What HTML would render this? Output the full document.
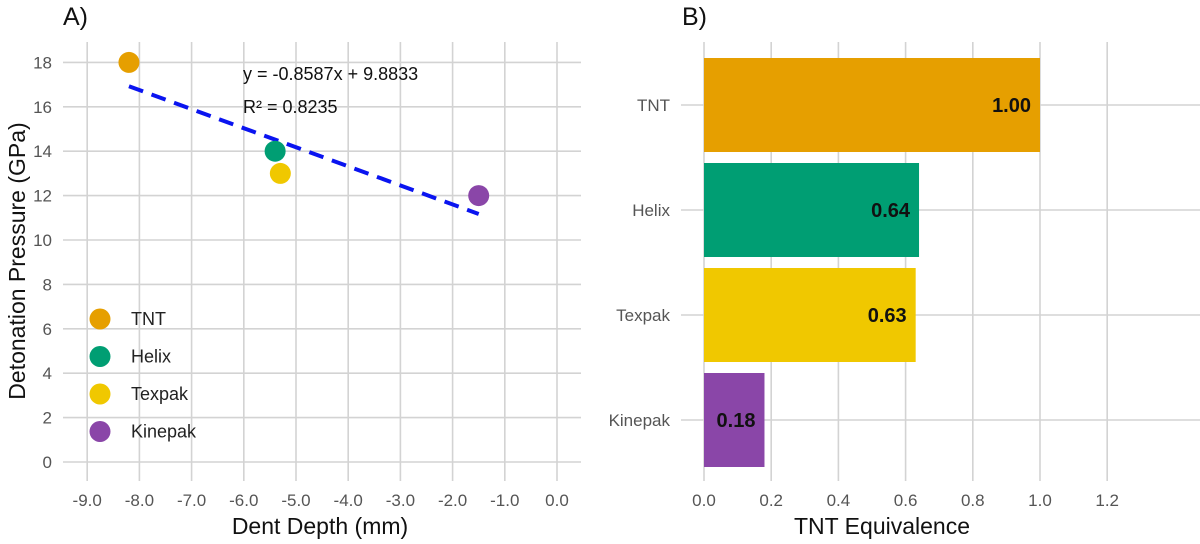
<!DOCTYPE html>
<html><head><meta charset="utf-8"><style>
body{margin:0;background:#fff;}
svg{display:block;font-family:"Liberation Sans",Arial,sans-serif;}
</style></head><body>
<svg id="c" width="1200" height="544"></svg>
<script>
const ptNames=["TNT","Helix","Texpak","Kinepak"];
const ptDepth=[-8.2,-5.4,-5.3,-1.5];
const ptPressure=[18,14,13,12];
const colors=["#E69F00","#009E73","#F0C800","#8A46A8"];
const xTicksA=[-9,-8,-7,-6,-5,-4,-3,-2,-1,0];
const yTicksA=[0,2,4,6,8,10,12,14,16,18];
const fitSlope=-0.8587, fitIntercept=9.8833;
const barNames=["TNT","Helix","Texpak","Kinepak"];
const barValues=[1.00,0.64,0.63,0.18];
const xTicksB=[0,0.2,0.4,0.6,0.8,1.0,1.2];

const svg=document.getElementById('c');
const NS="http://www.w3.org/2000/svg";
function mk(t,a,p){const e=document.createElementNS(NS,t);for(const k in a)e.setAttribute(k,a[k]);(p||svg).appendChild(e);return e;}
function txt(s,a,p){const e=mk('text',a,p);e.textContent=s;return e;}

// Panel A
const xA=v=>557+52.2*v, yA=v=>462-22.2*v;
const gA=mk('g',{});


xTicksA.forEach(v=>{
  const l=mk('line',{x1:xA(v),x2:xA(v),y1:42,y2:481,stroke:"#d3d3d3","stroke-width":1.6},gA);
  
  
  const t=txt(v.toFixed(1),{x:xA(v),y:506,"text-anchor":"middle","font-size":17,fill:"#555"},gA);
  
  
});
yTicksA.forEach(v=>{
  const l=mk('line',{x1:63,x2:581,y1:yA(v),y2:yA(v),stroke:"#d3d3d3","stroke-width":1.6},gA);
  
  
  const t=txt(String(v),{x:52,y:yA(v)+6,"text-anchor":"end","font-size":17,fill:"#555"},gA);
  
  
});
const x0=Math.min(...ptDepth), x1=Math.max(...ptDepth);
const fl=mk('line',{x1:xA(x0),y1:yA(fitSlope*x0+fitIntercept),x2:xA(x1),y2:yA(fitSlope*x1+fitIntercept),stroke:"#0a14f0","stroke-width":4,"stroke-dasharray":"15 9"},gA);


ptNames.forEach((n,i)=>{
  const c=mk('circle',{cx:xA(ptDepth[i]),cy:yA(ptPressure[i]),r:10.5,fill:colors[i]},gA);
  
  
  const lc=mk('circle',{cx:100,cy:319+37.5*i,r:10.5,fill:colors[i]},gA);
  
  
  const lt=txt(n,{x:131,y:325+37.5*i,"font-size":18,fill:"#222"},gA);
  
  
});
let e=txt("y = -0.8587x + 9.8833",{x:243,y:80,"font-size":18,fill:"#111"},gA);


e=txt("R² = 0.8235",{x:243,y:113,"font-size":18,fill:"#111"},gA);


e=txt("A)",{x:63,y:25,"font-size":25,fill:"#111"},gA);


e=txt("Dent Depth (mm)",{x:320,y:534,"text-anchor":"middle","font-size":23,fill:"#111"},gA);


e=txt("Detonation Pressure (GPa)",{x:0,y:0,"text-anchor":"middle","font-size":23,fill:"#111",transform:"translate(25,261) rotate(-90)"},gA);



// Panel B
const xB=v=>704+336*v;
const bandTop=52.5, band=105, barH=94;
const gB=mk('g',{});


xTicksB.forEach(v=>{
  const l=mk('line',{x1:xB(v),x2:xB(v),y1:42,y2:481,stroke:"#d3d3d3","stroke-width":1.6},gB);
  
  
  const t=txt(v.toFixed(1),{x:xB(v),y:506,"text-anchor":"middle","font-size":17,fill:"#555"},gB);
  
  
});
barNames.forEach((n,i)=>{
  const cy=bandTop+band*i+band/2;
  const l=mk('line',{x1:681,x2:1200,y1:cy,y2:cy,stroke:"#d3d3d3","stroke-width":1.6},gB);
  
  
  const t=txt(n,{x:670,y:cy+6,"text-anchor":"end","font-size":17,fill:"#555"},gB);
  
  
});
barNames.forEach((n,i)=>{
  const cy=bandTop+band*i+band/2;
  const r=mk('rect',{x:xB(0),y:cy-barH/2,width:xB(barValues[i])-xB(0),height:barH,fill:colors[i]},gB);
  
  
  const t=txt(barValues[i].toFixed(2),{x:xB(barValues[i])-9,y:cy+7,"text-anchor":"end","font-size":20,"font-weight":"bold",fill:"#111"},gB);
  
  
});
e=txt("B)",{x:682,y:25,"font-size":25,fill:"#111"},gB);


e=txt("TNT Equivalence",{x:882,y:534,"text-anchor":"middle","font-size":23,fill:"#111"},gB);


</script>
</body></html>
